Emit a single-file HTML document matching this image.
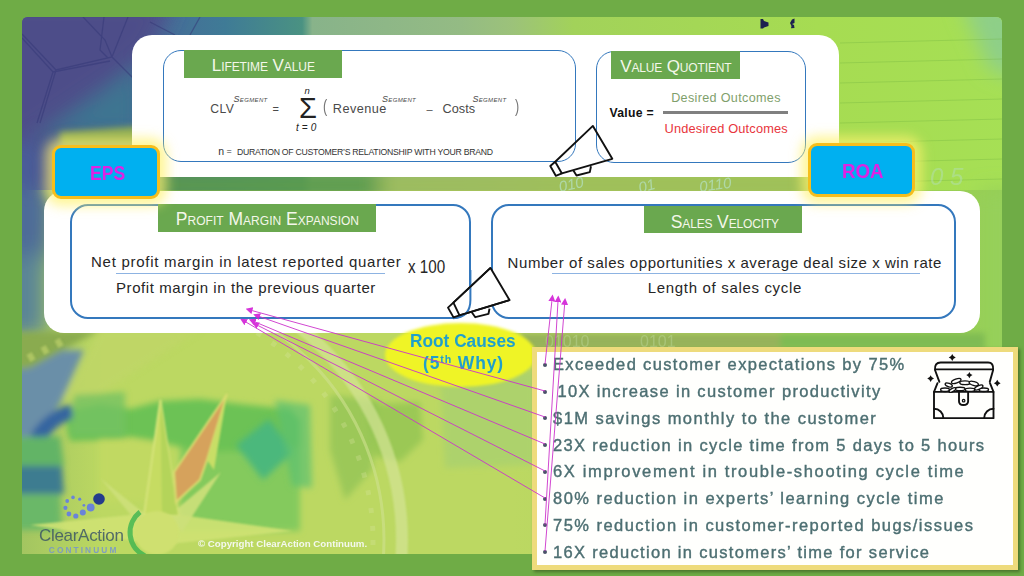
<!DOCTYPE html>
<html><head><meta charset="utf-8"><style>
*{margin:0;padding:0;box-sizing:border-box}
html,body{width:1024px;height:576px;overflow:hidden}
body{background:#6fac46;font-family:"Liberation Sans",sans-serif;position:relative}
.abs{position:absolute}
.t{position:absolute;white-space:pre;line-height:1}
.white{position:absolute;background:#fff;border-radius:20px}
.bbox{position:absolute;border:2px solid #3478bd;border-radius:18px;background:#fff}
.gh{position:absolute;background:#6aa84f}
.sc{font-variant:small-caps;color:#f4f7ea}
.kpi{position:absolute;background:#00b0f0;border:3px solid #f6be1c;border-radius:9px;
 box-shadow:0 0 12px 7px rgba(255,242,110,0.7)}
</style></head><body>
<svg class="abs" style="left:0;top:0" width="1024" height="576" viewBox="0 0 1024 576">
<defs>
<clipPath id="cpb"><rect x="0" y="333" width="1024" height="300"/></clipPath>
<clipPath id="cp"><path d="M22 23 Q22 17 28 17 L996 17 Q1002 17 1002 23 L1002 554 L22 554 Z"/></clipPath>
<filter id="b10" x="-30%" y="-30%" width="160%" height="160%"><feGaussianBlur stdDeviation="10"/></filter>
<filter id="b5" x="-30%" y="-30%" width="160%" height="160%"><feGaussianBlur stdDeviation="5"/></filter>
<filter id="b3" x="-30%" y="-30%" width="160%" height="160%"><feGaussianBlur stdDeviation="3"/></filter>
<filter id="b1" x="-30%" y="-30%" width="160%" height="160%"><feGaussianBlur stdDeviation="1"/></filter>
<linearGradient id="gtop" x1="0" y1="0" x2="1" y2="0">
<stop offset="0" stop-color="#4e4d89"/><stop offset="0.1" stop-color="#4d5090"/><stop offset="0.15" stop-color="#476a98"/>
<stop offset="0.22" stop-color="#3f7b96"/><stop offset="0.295" stop-color="#4a9282"/><stop offset="0.305" stop-color="#88b38a"/>
<stop offset="0.45" stop-color="#94bb84"/><stop offset="0.5" stop-color="#9cc27a"/><stop offset="0.56" stop-color="#a2d25a"/><stop offset="0.8" stop-color="#a6dc52"/><stop offset="1" stop-color="#a6e055"/>
</linearGradient>
<linearGradient id="gbot" x1="0" y1="0" x2="1" y2="0">
<stop offset="0" stop-color="#9cc060"/><stop offset="0.1" stop-color="#bcd862"/><stop offset="0.5" stop-color="#bcd862"/><stop offset="0.75" stop-color="#aed65c"/><stop offset="1" stop-color="#92cd52"/>
</linearGradient>
</defs>
<g clip-path="url(#cp)">
<rect x="0" y="0" width="1024" height="576" fill="url(#gbot)"/>
<rect x="0" y="0" width="1024" height="190" fill="url(#gtop)"/>
<g filter="url(#b10)">
<path d="M0 0 L175 0 L150 50 L126 70 L23 140 L0 146 Z" fill="#4e4d89"/>
<path d="M30 142 L126 74 L140 66 L140 134 L60 136 Z" fill="#3c7591"/>
<path d="M0 146 L30 142 L52 150 L40 200 L0 200 Z" fill="#4a5c98"/>
<path d="M0 190 L52 190 L50 260 L0 270 Z" fill="#4d6c98"/>
<path d="M0 260 L45 250 L45 335 L0 335 Z" fill="#5a8496"/>
<path d="M960 0 L1024 0 L1024 80 L990 70 Z" fill="#8ecf88"/>
<path d="M980 190 L1024 190 L1024 576 L980 576 Z" fill="#96d05a"/>
<path d="M150 170 L380 170 L380 200 L150 200 Z" fill="#5c9b48"/>
<path d="M380 170 L840 170 L840 200 L380 200 Z" fill="#9fbd5a"/>
</g>
<g fill="none" stroke="#363a78" stroke-width="1.3" opacity="0.55">
<path d="M22 34 L56 70 L112 57 L128 17 M56 70 L40 123 M112 57 L133 78 M83 17 L105 40 L112 57"/>
<path d="M22 38 L53 72 L110 61 M53 72 L37 123 M104 17 L100 50 L108 58"/>
<path d="M200 17 L190 35 M150 22 L175 35"/>
</g>
<g filter="url(#b3)"><path d="M60 132 L140 126 L140 146 L60 146 Z" fill="#8cab52"/></g>
<g stroke="#6cae3e" stroke-width="1.2" opacity="0.3"><path d="M840 43 L1002 39"/><path d="M840 63 L1002 59"/><path d="M840 83 L1002 79"/><path d="M840 103 L1002 99"/><path d="M840 123 L1002 119"/><path d="M840 143 L1002 139"/><path d="M840 163 L1002 159"/><path d="M840 183 L1002 179"/></g>
<!-- landmass / greens -->
<g filter="url(#b3)">
<path d="M180 448 L300 446 L300 531 L180 531 Z" fill="#7ec95c" opacity="0.9"/>
<path d="M64 412 L100 404 L130 409 L160 401 L200 399 L240 404 L290 409 L300 420 L300 446 L250 451 L200 452 L160 442 L130 437 L100 440 L70 441 Z" fill="#6cc254"/>
<path d="M100 438 L160 442 L170 500 L100 502 Z" fill="#c2d962" opacity="0.9"/>
<path d="M330 395 L380 400 L372 470 L345 500 L330 450 Z" fill="#94c456" opacity="0.8"/>
</g>
<g filter="url(#b3)">
<path d="M0 352 L84 350 L62 400 L38 436 L0 438 Z" fill="#6a8fa8"/>
<path d="M30 436 Q42 414 70 404 L74 418 Q56 424 46 440 Z" fill="#3565a0"/>
<path d="M0 438 L60 436 L64 466 L0 466 Z" fill="#62b466"/>
<path d="M0 466 L62 466 L64 494 L0 494 Z" fill="#3c7b90"/>
<path d="M0 494 L60 494 L62 530 L0 530 Z" fill="#6ab868"/>
<path d="M0 333 L100 330 L30 368 L0 372 Z" fill="#8aab50"/>
<path d="M100 330 L200 330 L90 400 L62 400 Z" fill="#bfd668" opacity="0.8"/>
<path d="M74 395 L125 392 L125 436 L70 436 Z" fill="#74c262" opacity="0.8"/>
</g>
<g filter="url(#b3)">
<path d="M236 445 L269 419 L293 452 L263 480 Z" fill="#4cb87c"/>
<path d="M275 400 L310 405 L312 488 L292 486 Z" fill="#5cc070" opacity="0.7"/>
<path d="M366 405 L420 402 L423 440 L400 462 L372 455 Z" fill="#92c452" opacity="0.8"/>
<path d="M440 375 L535 370 L535 465 L445 468 Z" fill="#a6d070" opacity="0.7"/>
</g>
<g filter="url(#b3)">
<path d="M520 333 L780 333 L780 350 L520 350 Z" fill="#96b25a"/>
<path d="M780 333 L985 333 L985 350 L780 350 Z" fill="#7fbb52"/>
</g>
<g fill="none" stroke="#c8e0a0" stroke-width="1.5" opacity="0.6" font-family="Liberation Sans">
<text x="545" y="347" font-size="16" fill="#c0dca0" stroke="none" opacity="0.7">01010</text>
<text x="640" y="347" font-size="16" fill="#c0dca0" stroke="none" opacity="0.7">0101</text>
</g>
<g font-family="Liberation Sans" font-size="15" fill="#b4e0c0" opacity="0.75" font-style="italic">
<text x="560" y="192" transform="rotate(-12 560 192)">010</text>
<text x="640" y="193" transform="rotate(-15 640 193)">01</text>
<text x="700" y="192" transform="rotate(-8 700 192)">0110</text>
<text x="930" y="185" font-size="24" opacity="0.6">0 5</text>
</g>
<!-- compass ring -->
<g clip-path="url(#cpb)">
<circle cx="130" cy="540" r="272" fill="none" stroke="#d4e496" stroke-width="12" opacity="0.7" filter="url(#b1)"/>
<circle cx="130" cy="540" r="254" fill="none" stroke="#cfe190" stroke-width="3" opacity="0.6"/>
<circle cx="130" cy="540" r="243" fill="none" stroke="#d8e6a0" stroke-width="5" stroke-dasharray="5 13" opacity="0.3"/>
</g>
<!-- compass -->
<g filter="url(#b1)">
<path d="M160 512 L293 531 L160 545 Z" fill="#cfe274" opacity="0.9"/>
<path d="M160 512 L30 525 L160 545 Z" fill="#cfe274" opacity="0.9"/>
<path d="M166 518 L221 472 L182 532 Z" fill="#cde07a" opacity="0.9"/>
<path d="M150 518 L100 478 L145 532 Z" fill="#cde07a" opacity="0.9"/>
<path d="M160.4 399.6 L178 515 L144 515 Z" fill="#c6dc62" stroke="#d6e47a" stroke-width="2"/>
<path d="M160.4 399.6 L178 515 L162 515 Z" fill="#b4d45a"/>
<path d="M227 394 L174 472 L176 502 L200 480 L207 460 Z" fill="#d6a25c" stroke="#d8dc70" stroke-width="2"/>
<path d="M227 394 L207 460 L214 470 Z" fill="#c8de66"/>
</g>
<circle cx="157" cy="533" r="22" fill="#cfe070" filter="url(#b1)"/>
<path d="M140 512 A26 26 0 0 0 145 556" fill="none" stroke="#3cb450" stroke-width="5" opacity="0.8"/>
<!-- film strip -->
<g opacity="0.6" fill="#c4d670" filter="url(#b1)">
<rect x="28" y="353" width="6" height="8" transform="rotate(-30 31 357)"/>
<rect x="42" y="346" width="6" height="8" transform="rotate(-30 45 350)"/>
<rect x="56" y="339" width="6" height="8" transform="rotate(-30 59 343)"/>
</g>
</g>
</svg>
<svg class="abs" style="left:758px;top:17px" width="40" height="14" viewBox="0 0 40 14"><path d="M2.5 2 L5 2 L6 4 L10.5 5.5 L10.5 9 L6 10.5 L5 11.5 L2.5 11.5 Z" fill="#1c2250"/><path d="M34 2.5 L36.5 1.5 L36.5 6 L34 7 L36 8 L36.5 11 L33 11.2 L33.5 9 L32 6 Z" fill="#1c2250"/></svg>
<div class="white" style="left:132px;top:35px;width:707px;height:142px"></div>
<div class="bbox" style="left:163px;top:50px;width:413px;height:112px;border-width:1.5px"></div>
<div class="gh" style="left:184px;top:50px;width:158px;height:28px"></div>
<div class="t" style="left:211.8px;top:56.9px;font-size:17px;color:#f4f7ea;letter-spacing:-0.08px;font-weight:400;font-variant:small-caps">Lifetime Value</div>
<div class="bbox" style="left:596px;top:51px;width:210px;height:112px;border-width:1.5px"></div>
<div class="gh" style="left:611px;top:51px;width:129px;height:28px"></div>
<div class="t" style="left:620.2px;top:57.6px;font-size:17px;color:#f4f7ea;letter-spacing:-0.14px;font-weight:400;font-variant:small-caps">Value Quotient</div>
<div class="t" style="left:210.2px;top:103.3px;font-size:12.2px;color:#4a4a4a;letter-spacing:0.5px;font-weight:400;">CLV</div>
<div class="t" style="left:233.5px;top:95.2px;font-size:9px;color:#4a4a4a;letter-spacing:0.35px;font-weight:400;font-style:italic;font-variant:small-caps">Segment</div>
<div class="t" style="left:272.5px;top:103.7px;font-size:11px;color:#4a4a4a;letter-spacing:0px;font-weight:400;">=</div>
<div class="t" style="left:299.0px;top:94.0px;font-size:29px;color:#222;letter-spacing:0px;font-weight:400;transform:scaleX(1.0);transform-origin:0 0">&#931;</div>
<div class="t" style="left:304.6px;top:86.0px;font-size:9.5px;color:#222;letter-spacing:0px;font-weight:400;font-style:italic">n</div>
<div class="t" style="left:296.0px;top:122.8px;font-size:10px;color:#222;letter-spacing:0.15px;font-weight:400;font-style:italic">t = 0</div>
<div class="t" style="left:323.3px;top:96.8px;font-size:18px;color:#777;letter-spacing:0px;font-weight:400;transform:scaleX(0.7);transform-origin:0 0">(</div>
<div class="t" style="left:332.8px;top:103.2px;font-size:12.7px;color:#4a4a4a;letter-spacing:0.45px;font-weight:400;">Revenue</div>
<div class="t" style="left:382.0px;top:95.1px;font-size:9px;color:#4a4a4a;letter-spacing:0.35px;font-weight:400;font-style:italic;font-variant:small-caps">Segment</div>
<div class="t" style="left:426.5px;top:103.7px;font-size:11px;color:#4a4a4a;letter-spacing:0px;font-weight:400;">&#8211;</div>
<div class="t" style="left:442.6px;top:103.2px;font-size:12.7px;color:#4a4a4a;letter-spacing:0.0px;font-weight:400;">Costs</div>
<div class="t" style="left:472.4px;top:95.1px;font-size:9px;color:#4a4a4a;letter-spacing:0.35px;font-weight:400;font-style:italic;font-variant:small-caps">Segment</div>
<div class="t" style="left:514.5px;top:96.8px;font-size:18px;color:#777;letter-spacing:0px;font-weight:400;transform:scaleX(0.7);transform-origin:0 0">)</div>
<div class="t" style="left:218.2px;top:145.8px;font-size:10.5px;color:#333;letter-spacing:0px;font-weight:400;">n</div>
<div class="t" style="left:226.5px;top:147.1px;font-size:9px;color:#333;letter-spacing:0px;font-weight:400;">=</div>
<div class="t" style="left:237.0px;top:148.1px;font-size:8.7px;color:#333;letter-spacing:-0.26px;font-weight:400;">DURATION OF CUSTOMER&#8217;S RELATIONSHIP WITH YOUR BRAND</div>
<div class="t" style="left:609.4px;top:106.7px;font-size:12.2px;color:#111;letter-spacing:0.3px;font-weight:700;">Value =</div>
<div class="t" style="left:671.2px;top:91.9px;font-size:12.6px;color:#7f9f6c;letter-spacing:0.33px;font-weight:400;">Desired Outcomes</div>
<div class="abs" style="left:663px;top:110.5px;width:125px;height:3px;background:#808080"></div>
<div class="t" style="left:664.6px;top:123.2px;font-size:12.8px;color:#e8353c;letter-spacing:0.17px;font-weight:400;">Undesired Outcomes</div>
<div class="white" style="left:44px;top:191px;width:936px;height:142px"></div>
<div class="bbox" style="left:70px;top:204px;width:401px;height:115px"></div>
<div class="gh" style="left:158px;top:203.5px;width:218px;height:28px"></div>
<div class="t" style="left:175.8px;top:210.6px;font-size:17.5px;color:#f4f7ea;letter-spacing:0.02px;font-weight:400;font-variant:small-caps">Profit Margin Expansion</div>
<div class="bbox" style="left:491px;top:204px;width:465px;height:115px"></div>
<div class="gh" style="left:644px;top:206px;width:158px;height:27px"></div>
<div class="t" style="left:670.8px;top:214.2px;font-size:17.5px;color:#f4f7ea;letter-spacing:-0.15px;font-weight:400;font-variant:small-caps">Sales Velocity</div>
<div class="t" style="left:91.0px;top:253.9px;font-size:15px;color:#262626;letter-spacing:0.73px;font-weight:400;">Net profit margin in latest reported quarter</div>
<div class="abs" style="left:116px;top:272.5px;width:269px;height:1px;background:#8db3e2"></div>
<div class="t" style="left:116.0px;top:280.3px;font-size:15px;color:#262626;letter-spacing:0.58px;font-weight:400;">Profit margin in the previous quarter</div>
<div class="t" style="left:408.0px;top:256.9px;font-size:19px;color:#262626;letter-spacing:0px;font-weight:400;transform:scaleX(0.8);transform-origin:0 0">x 100</div>
<div class="t" style="left:507.6px;top:254.8px;font-size:15px;color:#262626;letter-spacing:0.555px;font-weight:400;">Number of sales opportunities x average deal size x win rate</div>
<div class="abs" style="left:552px;top:272.5px;width:368px;height:1px;background:#8db3e2"></div>
<div class="t" style="left:647.8px;top:280.3px;font-size:15px;color:#262626;letter-spacing:0.67px;font-weight:400;">Length of sales cycle</div>
<div class="kpi" style="left:52px;top:145px;width:108px;height:54px"></div>
<div class="t" style="left:89.5px;top:163.5px;font-size:19.5px;color:#df22e2;letter-spacing:0px;font-weight:700;transform:scaleX(0.9);transform-origin:0 0">EPS</div>
<div class="kpi" style="left:808px;top:143px;width:107px;height:54px"></div>
<div class="t" style="left:841.5px;top:161.8px;font-size:19.5px;color:#df22e2;letter-spacing:0px;font-weight:700;transform:scaleX(0.96);transform-origin:0 0">ROA</div>
<div class="abs" style="left:385px;top:322.5px;width:151px;height:64.5px;border-radius:50%;background:#eff426;filter:blur(1.5px)"></div>
<div class="t" style="left:409.5px;top:331.6px;font-size:18px;color:#20a0cc;letter-spacing:0px;font-weight:700;transform:scaleX(0.96);transform-origin:0 0">Root Causes</div>
<div class="t" style="left:422.5px;top:354.4px;font-size:18px;color:#20a0cc;letter-spacing:0.9px;font-weight:700;transform:scaleX(0.97);transform-origin:0 0">(5<span style="font-size:11px;position:relative;top:-6px">th</span> Why)</div>
<div class="abs" style="left:532px;top:347px;width:486px;height:223px;background:#fffffd;border:5px solid #eedb7c;box-shadow:2px 2px 3px rgba(40,60,20,0.5)"></div>
<div class="t" style="left:553.0px;top:356.4px;font-size:16.5px;color:#4d6f72;letter-spacing:1.345px;font-weight:400;-webkit-text-stroke:0.4px #4d6f72">Exceeded customer expectations by 75%</div>
<div class="abs" style="left:542.5px;top:362.9px;width:4px;height:4px;border-radius:50%;background:#4a5268"></div>
<div class="t" style="left:557.5px;top:383.2px;font-size:16.5px;color:#4d6f72;letter-spacing:1.345px;font-weight:400;-webkit-text-stroke:0.4px #4d6f72">10X increase in customer productivity</div>
<div class="abs" style="left:542.5px;top:389.6px;width:4px;height:4px;border-radius:50%;background:#4a5268"></div>
<div class="t" style="left:553.0px;top:409.9px;font-size:16.5px;color:#4d6f72;letter-spacing:1.455px;font-weight:400;-webkit-text-stroke:0.4px #4d6f72">$1M savings monthly to the customer</div>
<div class="abs" style="left:542.5px;top:416.4px;width:4px;height:4px;border-radius:50%;background:#4a5268"></div>
<div class="t" style="left:553.0px;top:436.7px;font-size:16.5px;color:#4d6f72;letter-spacing:1.33px;font-weight:400;-webkit-text-stroke:0.4px #4d6f72">23X reduction in cycle time from 5 days to 5 hours</div>
<div class="abs" style="left:542.5px;top:443.1px;width:4px;height:4px;border-radius:50%;background:#4a5268"></div>
<div class="t" style="left:553.0px;top:463.4px;font-size:16.5px;color:#4d6f72;letter-spacing:1.645px;font-weight:400;-webkit-text-stroke:0.4px #4d6f72">6X improvement in trouble-shooting cycle time</div>
<div class="abs" style="left:542.5px;top:469.9px;width:4px;height:4px;border-radius:50%;background:#4a5268"></div>
<div class="t" style="left:553.0px;top:490.2px;font-size:16.5px;color:#4d6f72;letter-spacing:1.465px;font-weight:400;-webkit-text-stroke:0.4px #4d6f72">80% reduction in experts&#8217; learning cycle time</div>
<div class="abs" style="left:542.5px;top:496.6px;width:4px;height:4px;border-radius:50%;background:#4a5268"></div>
<div class="t" style="left:553.0px;top:516.9px;font-size:16.5px;color:#4d6f72;letter-spacing:1.465px;font-weight:400;-webkit-text-stroke:0.4px #4d6f72">75% reduction in customer-reported bugs/issues</div>
<div class="abs" style="left:542.5px;top:523.4px;width:4px;height:4px;border-radius:50%;background:#4a5268"></div>
<div class="t" style="left:553.0px;top:543.7px;font-size:16.5px;color:#4d6f72;letter-spacing:1.315px;font-weight:400;-webkit-text-stroke:0.4px #4d6f72">16X reduction in customers&#8217; time for service</div>
<div class="abs" style="left:542.5px;top:550.1px;width:4px;height:4px;border-radius:50%;background:#4a5268"></div>
<svg class="abs" style="left:0;top:0" width="1024" height="576" viewBox="0 0 1024 576">
<g fill="none" stroke="#111" stroke-width="1.9" stroke-linejoin="round">
<path d="M592.9 125.9 L612.3 158.8 L561.9 173.4 L555.2 161.8 Z"/>
<path d="M555.2 161.8 L550.3 166 L555.8 175.8 L561.9 173.4"/>
<path d="M573.4 170.6 L576.5 175.5 L589.8 172.1 L591 166.2"/>
<path d="M490.5 267.9 L509.5 300.1 L459.5 315.3 L453.4 302.6 Z" fill="#fff"/>
<path d="M470.4 270 L470.4 300 Q470.4 317.5 453 318.3" stroke="#3478bd" stroke-width="2"/>
<path d="M490.5 267.9 L453.4 302.6 M459.5 315.3 L509.5 300.1"/>
<path d="M453.4 302.6 L448 307.6 L453.5 317.4 L459.5 315.3"/>
<path d="M471.6 312 L475.3 317.2 L488.5 313.8 L489.5 308.6"/>
</g>
</svg>
<svg class="abs" style="left:0;top:0" width="1024" height="576" viewBox="0 0 1024 576">
<defs><marker id="ah" viewBox="0 0 10 10" refX="2" refY="5" markerWidth="7" markerHeight="7" orient="auto-start-reverse">
<path d="M0 0 L10 5 L0 10 Z" fill="#d21fd6"/></marker></defs>
<g stroke="#cc33cc" stroke-width="1" fill="none" opacity="0.9">
<path d="M545 391 L251 310.3" marker-end="url(#ah)"/>
<path d="M545 417 L258.5 316.2" marker-end="url(#ah)"/>
<path d="M545 444 L254 321.5" marker-end="url(#ah)"/>
<path d="M545 471 L257 325" marker-end="url(#ah)"/>
<path d="M545 498 L245 321.5" marker-end="url(#ah)"/>
<path d="M545 364 L552 300" marker-end="url(#ah)"/>
<path d="M545 524.5 L558 301" marker-end="url(#ah)"/>
<path d="M545 551 L564.7 303.5" marker-end="url(#ah)"/>
</g>
</svg>
<svg class="abs" style="left:925px;top:350px" width="80" height="72" viewBox="0 0 640 576">
<g fill="none" stroke="#111" stroke-width="15" stroke-linejoin="round" stroke-linecap="round">
<path d="M115 255 L80 160 Q75 100 125 100 L505 100 Q550 100 545 160 L518 255"/>
<path d="M82 155 L543 155"/>
<rect x="72" y="335" width="476" height="210"/>
<path d="M72 335 L100 265 M548 335 L520 265"/>
<path d="M72 470 A75 75 0 0 1 147 545 M548 470 A75 75 0 0 0 473 545"/>
<path d="M272 335 L272 410 Q272 440 307 440 Q345 440 345 410 L345 335"/>
<circle cx="309" cy="405" r="10" stroke-width="10"/>
</g>
<g fill="#fff" stroke="#111" stroke-width="11">
<ellipse cx="160" cy="318" rx="35" ry="14"/>
<ellipse cx="470" cy="318" rx="38" ry="14"/>
<ellipse cx="190" cy="280" rx="30" ry="13" transform="rotate(20 190 280)"/>
<ellipse cx="250" cy="248" rx="40" ry="16" transform="rotate(-20 250 248)"/>
<ellipse cx="320" cy="262" rx="42" ry="15"/>
<ellipse cx="390" cy="268" rx="38" ry="15" transform="rotate(15 390 268)"/>
<ellipse cx="430" cy="300" rx="36" ry="14" transform="rotate(-25 430 300)"/>
<ellipse cx="280" cy="312" rx="40" ry="14"/>
<ellipse cx="360" cy="318" rx="38" ry="13"/>
<ellipse cx="220" cy="320" rx="30" ry="12" transform="rotate(-30 220 320)"/>
</g>
<g fill="#111">
<path d="M218 32 Q225.0 53.0 246 60 Q225.0 67.0 218 88 Q211.0 67.0 190 60 Q211.0 53.0 218 32 Z"/>
<path d="M45 201 Q51.75 221.25 72 228 Q51.75 234.75 45 255 Q38.25 234.75 18 228 Q38.25 221.25 45 201 Z"/>
<path d="M355 175 Q361.25 193.75 380 200 Q361.25 206.25 355 225 Q348.75 206.25 330 200 Q348.75 193.75 355 175 Z"/>
<path d="M578 238 Q584.75 258.25 605 265 Q584.75 271.75 578 292 Q571.25 271.75 551 265 Q571.25 258.25 578 238 Z"/>
</g>
</svg>
<div class="t" style="left:198.0px;top:538.8px;font-size:9.7px;color:#f4f8ee;letter-spacing:0px;font-weight:700;">&#169; Copyright ClearAction Continuum.</div>
<svg class="abs" style="left:0;top:0" width="1024" height="576" viewBox="0 0 1024 576">
<circle cx="99" cy="499" r="5.8" fill="#243c8c"/>
<g fill="#6a84d8">
<circle cx="90.7" cy="507.5" r="3.9"/><circle cx="82.8" cy="512.6" r="3"/><circle cx="75.8" cy="516" r="2.6"/>
<circle cx="68.9" cy="514" r="2.4"/><circle cx="65.4" cy="507.8" r="2.1"/><circle cx="67.2" cy="501" r="1.9"/>
<circle cx="73" cy="497.4" r="1.8"/><circle cx="79.7" cy="499.2" r="1.6"/><circle cx="83.9" cy="505.3" r="1.4"/>
</g></svg>
<div class="t" style="left:39.0px;top:526.6px;font-size:17px;color:#3e5866;letter-spacing:-0.3px;font-weight:400;opacity:0.85">ClearAction</div>
<div class="t" style="left:48.8px;top:545.5px;font-size:8.3px;color:#7090d8;letter-spacing:2.1px;font-weight:700;opacity:0.8">CONTINUUM</div>
</body></html>
